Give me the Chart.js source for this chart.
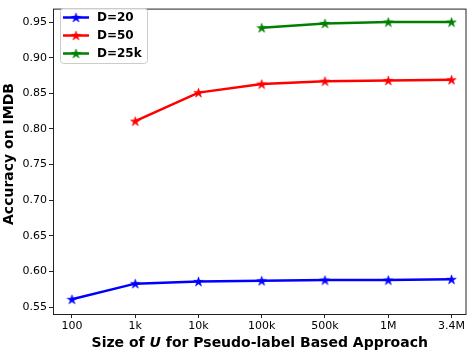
<!DOCTYPE html>
<html><head><meta charset="utf-8">
<script src="https://cdn.jsdelivr.net/npm/chart.js@4/dist/chart.umd.min.js"></script>
<style>html,body{margin:0;padding:0;background:#fff}#wrap{width:474px;height:352px}</style>
</head><body><div id="wrap"><canvas id="c"></canvas></div>
<script>
const categories = ['100','1k','10k','100k','500k','1M','3.4M'];
const seriesNames = ['D=20','D=50','D=25k'];
const d20 = [0.561, 0.583, 0.586, 0.587, 0.588, 0.588, 0.589];
const d50 = [null, 0.811, 0.851, 0.863, 0.867, 0.868, 0.869];
const d25k = [null, null, null, 0.942, 0.948, 0.950, 0.950];
const yTicks = [0.55, 0.60, 0.65, 0.70, 0.75, 0.80, 0.85, 0.90, 0.95];
const xTitle = ['Size of ', 'U', ' for Pseudo-label Based Approach'];
const yTitle = 'Accuracy on IMDB';

const colors = ['#0000ff', '#ff0000', '#008000'];
const FONT = "'DejaVu Sans', sans-serif";

function starImg(color) {
  const s = 11, c = document.createElement('canvas');
  c.width = s; c.height = s;
  const g = c.getContext('2d');
  const R = 5, r = R * 0.382, cx = s / 2, cy = s / 2 + 0.4;
  g.beginPath();
  for (let i = 0; i < 10; i++) {
    const rad = i % 2 === 0 ? R : r;
    const a = -Math.PI / 2 + i * Math.PI / 5;
    const px = cx + rad * Math.cos(a), py = cy + rad * Math.sin(a);
    i === 0 ? g.moveTo(px, py) : g.lineTo(px, py);
  }
  g.closePath();
  g.fillStyle = color; g.fill();
  g.strokeStyle = color; g.lineWidth = 0.6; g.stroke();
  return c;
}
const stars = colors.map(starImg);

function pts(vals) {
  const out = [];
  vals.forEach((v, i) => { if (v !== null) out.push({x: i, y: v}); });
  return out;
}
const allSeries = [d20, d50, d25k];

const framePlugin = {
  id: 'frame',
  afterDatasetsDraw(chart) {
    const {ctx, chartArea: a} = chart;
    ctx.save();
    ctx.strokeStyle = '#222'; ctx.lineWidth = 1;
    ctx.strokeRect(a.left + 0.5, a.top + 0.5, a.right - a.left - 1, a.bottom - a.top);
    ctx.restore();
  },
  afterDraw(chart) {
    const {ctx, chartArea: a} = chart;
    ctx.save();
    // legend
    const lx = 60, ly = 8, lw = 87, lh = 55;
    ctx.fillStyle = 'rgba(255,255,255,0.85)';
    ctx.strokeStyle = '#cccccc'; ctx.lineWidth = 1;
    ctx.beginPath();
    if (ctx.roundRect) ctx.roundRect(lx + 0.5, ly + 0.5, lw, lh, 3); else ctx.rect(lx + 0.5, ly + 0.5, lw, lh);
    ctx.fill(); ctx.stroke();
    seriesNames.forEach((name, i) => {
      const y = 17.5 + i * 18;
      ctx.strokeStyle = colors[i]; ctx.lineWidth = 2.5;
      ctx.beginPath(); ctx.moveTo(63, y); ctx.lineTo(89, y); ctx.stroke();
      ctx.drawImage(stars[i], 76 - 5.5, y - 5.5);
      ctx.fillStyle = '#000';
      ctx.font = 'bold 12px ' + FONT;
      ctx.textBaseline = 'middle'; ctx.textAlign = 'left';
      ctx.fillText(name, 97, y + 0.5);
    });
    // x title with italic U
    const fontsX = ['bold 14px ' + FONT, 'italic bold 14px ' + FONT, 'bold 14px ' + FONT];
    let total = 0;
    xTitle.forEach((t, i) => { ctx.font = fontsX[i]; total += ctx.measureText(t).width; });
    let x = (a.left + a.right) / 2 - total / 2;
    ctx.fillStyle = '#000'; ctx.textBaseline = 'middle'; ctx.textAlign = 'left';
    xTitle.forEach((t, i) => { ctx.font = fontsX[i]; ctx.fillText(t, x, 343); x += ctx.measureText(t).width; });
    // y title
    ctx.translate(9, 154);
    ctx.rotate(-Math.PI / 2);
    ctx.font = 'bold 14px ' + FONT; ctx.textAlign = 'center'; ctx.textBaseline = 'middle';
    ctx.fillText(yTitle, 0, 0);
    ctx.restore();
  }
};

new Chart(document.getElementById('c'), {
  type: 'line',
  data: {
    datasets: seriesNames.map((n, i) => ({
      label: n,
      data: pts(allSeries[i]),
      borderColor: colors[i],
      backgroundColor: colors[i],
      borderWidth: 2.5,
      pointStyle: stars[i],
      pointRadius: 5,
      pointHoverRadius: 5,
      tension: 0,
      fill: false
    }))
  },
  options: {
    responsive: true,
    maintainAspectRatio: false,
    animation: false,
    events: [],
    layout: {padding: {top: 3, right: 7, left: 0, bottom: 0}},
    plugins: {legend: {display: false}, tooltip: {enabled: false}},
    scales: {
      x: {
        type: 'linear',
        min: -0.30, max: 6.237,
        afterFit(s) { s.height = 38; },
        afterBuildTicks(s) { s.ticks = categories.map((c, i) => ({value: i})); },
        ticks: {
          callback: (v) => categories[v] ?? '',
          font: {family: FONT, size: 11}, color: '#000', padding: 2,
          maxRotation: 0, autoSkip: false, includeBounds: false
        },
        grid: {drawOnChartArea: false, tickLength: 4, tickColor: '#222'},
        border: {display: false}
      },
      y: {
        type: 'linear',
        min: 0.5404, max: 0.9689,
        afterFit(s) { s.width = 53; },
        afterBuildTicks(s) { s.ticks = yTicks.map(v => ({value: v})); },
        ticks: {
          callback: (v) => v.toFixed(2),
          font: {family: FONT, size: 11}, color: '#000', padding: 2, includeBounds: false
        },
        grid: {drawOnChartArea: false, tickLength: 4, tickColor: '#222'},
        border: {display: false}
      }
    }
  },
  plugins: [framePlugin]
});
</script></body></html>
